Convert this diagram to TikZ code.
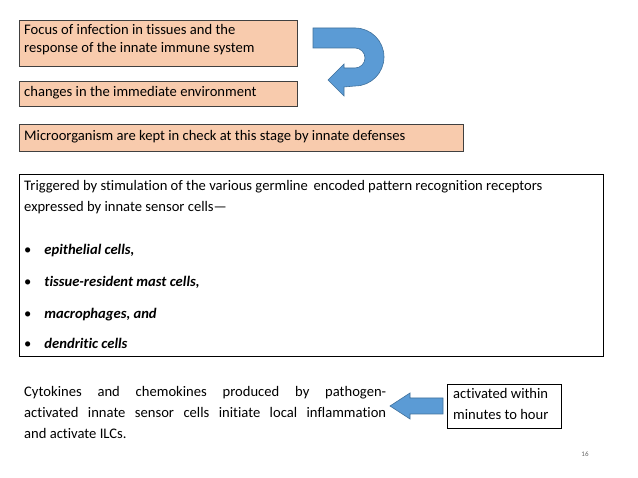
\documentclass[tikz,border=0pt]{standalone}
\usepackage{fontspec}
\setmainfont[Ligatures={NoCommon,NoRare,NoContextual}]{Carlito}
\definecolor{salm}{HTML}{F8CBAD}
\definecolor{bluA}{HTML}{5B9BD5}
\definecolor{bluB}{HTML}{41719C}
\begin{document}
\begin{tikzpicture}[x=1pt,y=1pt,
  salmon/.style={draw=black!75,fill=salm,line width=0.6pt},
  txt/.style={anchor=north west,align=left,font=\fontsize{14.6}{18}\selectfont,inner sep=0pt},
  blue arrow/.style={fill=bluA,draw=bluB,line width=0.6pt}]
\useasboundingbox (0,0) rectangle (638,478);
\path[salmon] (19,458) rectangle (297,412);
\node[txt] (t1) at (24,454) {Focus of infection in tissues and the\\response of the innate immune system};
\path[salmon] (19,397) rectangle (297,372);
\node[txt] (t2) at (24,392) {changes in the immediate environment};
\path[salmon] (19,354) rectangle (463,327);
\node[txt] (t3) at (24,348) {Microorganism are kept in check at this stage by innate defenses};
\draw[line width=0.6pt] (19,304) rectangle (603,122);
\node[txt,font=\fontsize{14.6}{21}\selectfont] (t4) at (24,298) {Triggered by stimulation of the various germline\, encoded pattern recognition receptors\\expressed by innate sensor cells---};
\foreach \y/\s in {234/{epithelial cells,},202/{tissue-resident mast cells,},170/{macrophages, and},140/{dendritic cells}}
  \node[txt] at (24,\y) {\textbullet\hspace{13pt}\textbf{\textit{\s}}};
\node[txt,text width=362pt,align=justify,font=\fontsize{14.6}{21}\selectfont] (t5) at (24,92) {Cytokines and chemokines produced by pathogen-\linebreak activated innate sensor cells initiate local inflammation\linebreak and activate ILCs.};
\draw[line width=0.6pt] (447,94) rectangle (561,50);
\node[txt,font=\fontsize{14.6}{21}\selectfont] (t6) at (453,90) {activated within\\minutes to hour};
\path[blue arrow] (443,80) -- (410,80) -- (410,85) -- (390,72) -- (410,59) -- (410,64) -- (443,64) -- cycle;
\path[blue arrow] (313,450) -- (355,450) arc[start angle=90,end angle=-90,radius=29] -- (344,391) -- (344,382) -- (328,398) -- (344,414) -- (344,410) -- (355,410) arc[start angle=-90,end angle=90,radius=10] -- (313,430) -- cycle;
\node[font=\fontsize{7}{8}\selectfont,text=black!60] (pn) at (585,24) {16};
\end{tikzpicture}
\end{document}
